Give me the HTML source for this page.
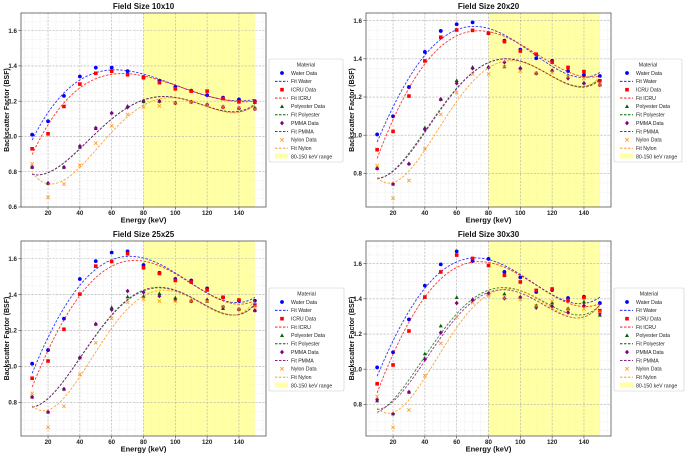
<!DOCTYPE html>
<html><head><meta charset="utf-8"><style>
body{margin:0;background:#fff;}
svg{display:block;font-family:"Liberation Sans","DejaVu Sans",sans-serif;}
</style></head><body>
<svg id="fig" width="685" height="453" viewBox="0 0 685 453" xmlns="http://www.w3.org/2000/svg"></svg>
<script>
const energies=[10,20,30,40,50,60,70,80,90,100,110,120,130,140,150];
const materials=["Water","ICRU","Polyester","PMMA","Nylon"];
const fieldSizes=["10x10","20x20","25x25","30x30"];
const water10=[1.01,1.086,1.23,1.34,1.39,1.39,1.37,1.337,1.316,1.28,1.26,1.234,1.22,1.21,1.2];
const icru10=[0.93,1.015,1.17,1.297,1.358,1.37,1.35,1.333,1.305,1.27,1.257,1.257,1.215,1.196,1.194];
const poly10=[0.826,0.735,0.826,0.94,1.046,1.135,1.173,1.198,1.2,1.19,1.196,1.18,1.17,1.16,1.164];
const pmma10=[0.826,0.735,0.826,0.945,1.048,1.133,1.166,1.2,1.2,1.19,1.196,1.18,1.166,1.16,1.156];
const nylon10=[0.845,0.655,0.73,0.836,0.962,1.06,1.124,1.168,1.173,1.19,1.196,1.18,1.166,1.16,1.156];
const water20=[1.004,1.099,1.252,1.436,1.546,1.581,1.591,1.534,1.495,1.448,1.403,1.39,1.336,1.315,1.31];
const icru20=[0.924,1.02,1.205,1.389,1.513,1.551,1.549,1.534,1.49,1.441,1.424,1.383,1.355,1.333,1.285];
const poly20=[0.826,0.745,0.852,1.04,1.188,1.287,1.357,1.359,1.359,1.354,1.324,1.34,1.306,1.275,1.266];
const pmma20=[0.826,0.745,0.85,1.03,1.188,1.272,1.35,1.355,1.382,1.35,1.324,1.338,1.298,1.272,1.263];
const nylon20=[0.84,0.67,0.763,0.929,1.109,1.223,1.32,1.32,1.359,1.336,1.324,1.33,1.306,1.298,1.263];
const water25=[1.015,1.091,1.266,1.487,1.587,1.635,1.641,1.565,1.522,1.487,1.479,1.435,1.385,1.366,1.366];
const icru25=[0.934,1.03,1.207,1.403,1.559,1.585,1.628,1.55,1.518,1.479,1.47,1.426,1.385,1.37,1.342];
const poly25=[0.83,0.746,0.874,1.049,1.236,1.329,1.388,1.392,1.407,1.383,1.364,1.364,1.323,1.318,1.312];
const pmma25=[0.83,0.746,0.874,1.049,1.236,1.316,1.42,1.413,1.392,1.37,1.364,1.37,1.331,1.318,1.312];
const nylon25=[0.85,0.661,0.778,0.956,1.132,1.268,1.357,1.375,1.364,1.364,1.364,1.364,1.333,1.318,1.333];
const water30=[1.01,1.096,1.283,1.475,1.596,1.67,1.615,1.627,1.553,1.522,1.439,1.45,1.405,1.412,1.376];
const icru30=[0.917,1.024,1.217,1.41,1.553,1.649,1.63,1.59,1.534,1.496,1.448,1.456,1.391,1.407,1.333];
const poly30=[0.82,0.747,0.87,1.088,1.247,1.409,1.399,1.429,1.429,1.41,1.363,1.378,1.346,1.384,1.308];
const pmma30=[0.826,0.747,0.87,1.056,1.208,1.376,1.393,1.431,1.403,1.409,1.35,1.357,1.323,1.361,1.316];
const nylon30=[0.845,0.669,0.768,0.963,1.147,1.297,1.378,1.418,1.403,1.397,1.359,1.386,1.34,1.342,1.325];
const xTicks=[20,40,60,80,100,120,140];
const yTicks=[0.6,0.8,1.0,1.2,1.4,1.6];
const rangeStart=80, rangeEnd=150;

const NS="http://www.w3.org/2000/svg";
const svg=document.getElementById('fig');
function mk(tag,attrs,parent){const e=document.createElementNS(NS,tag);for(const k in attrs)e.setAttribute(k,attrs[k]);(parent||svg).appendChild(e);return e;}
const colors=["#0000ff","#ff0000","#006400","#800080","#ff8c00"];
const panels=[
 {x0:21,x1:266,y0:13,y1:207,ymin:0.6,ymax:1.7,lx:269,ly:59,lw:74,data:[water10,icru10,poly10,pmma10,nylon10]},
 {x0:366,x1:611,y0:13,y1:207,ymin:0.624,ymax:1.64,lx:614,ly:59,lw:68,data:[water20,icru20,poly20,pmma20,nylon20]},
 {x0:21,x1:266,y0:241,y1:436,ymin:0.612,ymax:1.699,lx:269,ly:288,lw:75,data:[water25,icru25,poly25,pmma25,nylon25]},
 {x0:366,x1:611,y0:241,y1:436,ymin:0.62,ymax:1.729,lx:614,ly:288,lw:70,data:[water30,icru30,poly30,pmma30,nylon30]}
];
function polyfit(xs,ys,deg){
 const n=deg+1,A=[];for(let i=0;i<n;i++){A.push(new Array(n+1).fill(0));}
 xs.forEach((x0,k)=>{const x=x0/100;for(let i=0;i<n;i++){for(let j=0;j<n;j++)A[i][j]+=Math.pow(x,i+j);A[i][n]+=Math.pow(x,i)*ys[k];}});
 for(let i=0;i<n;i++){let p=i;for(let r=i+1;r<n;r++)if(Math.abs(A[r][i])>Math.abs(A[p][i]))p=r;[A[i],A[p]]=[A[p],A[i]];
  for(let r=0;r<n;r++){if(r===i)continue;const f=A[r][i]/A[i][i];for(let c=i;c<=n;c++)A[r][c]-=f*A[i][c];}}
 const c=A.map((row,i)=>row[n]/row[i]);
 return x=>{let s=0;const t=x/100;for(let i=0;i<n;i++)s+=c[i]*Math.pow(t,i);return s;};
}
function marker(type,cx,cy,col,g){
 let m;
 if(type===0)m=mk('circle',{cx:cx,cy:cy,r:1.9,fill:col},g);
 else if(type===1)m=mk('rect',{x:cx-1.8,y:cy-1.8,width:3.6,height:3.6,fill:col},g);
 else if(type===2)m=mk('path',{d:`M${cx},${cy-2}L${cx+2},${cy+1.6}L${cx-2},${cy+1.6}Z`,fill:col},g);
 else if(type===3)m=mk('path',{d:`M${cx},${cy-2.3}L${cx+2},${cy}L${cx},${cy+2.3}L${cx-2},${cy}Z`,fill:col},g);
 else m=mk('path',{d:`M${cx-1.7},${cy-1.7}L${cx+1.7},${cy+1.7}M${cx-1.7},${cy+1.7}L${cx+1.7},${cy-1.7}`,stroke:col,'stroke-width':0.9,opacity:0.8},g);
 return m;
}
panels.forEach((P,pi)=>{
 const g=mk('g',{});
 
 
 const xs=v=>P.x0+(v-3)/(157-3)*(P.x1-P.x0);
 const ys=v=>P.y1-(v-P.ymin)/(P.ymax-P.ymin)*(P.y1-P.y0);
 for(let v=5;v<=155;v+=5){const x=xs(v);if(x<P.x0||x>P.x1)continue;mk('line',{x1:x,x2:x,y1:P.y0,y2:P.y1,stroke:'#e4e4e4','stroke-width':0.5,'stroke-dasharray':'1,1'},g);}
 for(let v=0.6;v<=1.75;v+=0.05){const y=ys(v);if(y<P.y0||y>P.y1)continue;mk('line',{x1:P.x0,x2:P.x1,y1:y,y2:y,stroke:'#e4e4e4','stroke-width':0.5,'stroke-dasharray':'1,1'},g);}
 const sp=mk('rect',{x:xs(rangeStart),y:P.y0,width:xs(rangeEnd)-xs(rangeStart),height:P.y1-P.y0,fill:'#ffff80',opacity:0.7},g);
 
 
 xTicks.forEach(v=>{const x=xs(v);mk('line',{x1:x,x2:x,y1:P.y0,y2:P.y1,stroke:'#b0b0b0','stroke-width':0.6,'stroke-dasharray':'2,1.5'},g);
  mk('line',{x1:x,x2:x,y1:P.y1,y2:P.y1+2.5,stroke:'#333','stroke-width':0.6},g);
  const t=mk('text',{x:x,y:P.y1+8,'font-size':6.2,'font-weight':'bold','text-anchor':'middle',fill:'#222'},g);t.textContent=v;
  });
 yTicks.forEach(v=>{const y=ys(v);if(y<P.y0-0.5||y>P.y1+0.5)return;mk('line',{x1:P.x0,x2:P.x1,y1:y,y2:y,stroke:'#b0b0b0','stroke-width':0.6,'stroke-dasharray':'2,1.5'},g);
  mk('line',{x1:P.x0-2.5,x2:P.x0,y1:y,y2:y,stroke:'#333','stroke-width':0.6},g);
  const t=mk('text',{x:P.x0-4,y:y+2.2,'font-size':6.2,'font-weight':'bold','text-anchor':'end',fill:'#222'},g);t.textContent=v.toFixed(1);
  });
 P.data.forEach((arr,si)=>{
  const f=polyfit(energies,arr,4);let d='';
  for(let e=10;e<=150;e+=1)d+=(e===10?'M':'L')+xs(e).toFixed(2)+','+ys(f(e)).toFixed(2);
  const l=mk('path',{d:d,fill:'none',stroke:colors[si],'stroke-width':0.9,'stroke-dasharray':'2.5,1.5',opacity:0.8},g);
  
  
  arr.forEach((v,k)=>{const m=marker(si,xs(energies[k]),ys(v),colors[si],g);
   
   });
 });
 mk('rect',{x:P.x0,y:P.y0,width:P.x1-P.x0,height:P.y1-P.y0,fill:'none',stroke:'#555','stroke-width':0.8},g);
 const tt=mk('text',{x:(P.x0+P.x1)/2,y:P.y0-4,'font-size':8,'font-weight':'bold','text-anchor':'middle',fill:'#111'},g);tt.textContent='Field Size '+fieldSizes[pi];
 
 const xl=mk('text',{x:(P.x0+P.x1)/2,y:P.y1+15.5,'font-size':7.5,'font-weight':'bold','text-anchor':'middle',fill:'#111'},g);xl.textContent='Energy (keV)';
 
 const cy=(P.y0+P.y1)/2,cx=P.x0-12;
 const yl=mk('text',{x:cx,y:cy,'font-size':7,'font-weight':'bold','text-anchor':'middle',fill:'#111',transform:`rotate(-90 ${cx} ${cy})`},g);yl.textContent='Backscatter Factor (BSF)';
 
 const lg=mk('g',{},g);
 
 
 mk('rect',{x:P.lx,y:P.ly,width:P.lw,height:103,fill:'#fff',stroke:'#ccc','stroke-width':0.6,rx:1.5},lg);
 const lt=mk('text',{x:P.lx+P.lw/2,y:P.ly+7.5,'font-size':5.2,'text-anchor':'middle',fill:'#222'},lg);lt.textContent='Material';
 let row=0;
 materials.forEach((m,si)=>{
  let y=P.ly+15.5+row*8.35;
  const e1=mk('g',{},lg);
  marker(si,P.lx+13,y-1.5,colors[si],e1);
  const t1=mk('text',{x:P.lx+22,y:y+0.3,'font-size':5.2,fill:'#222'},e1);t1.textContent=m+' Data';
  row++;y=P.ly+15.5+row*8.35;
  const e2=mk('g',{},lg);
  mk('line',{x1:P.lx+6,x2:P.lx+19,y1:y-1.5,y2:y-1.5,stroke:colors[si],'stroke-width':0.9,'stroke-dasharray':'2.5,1.5'},e2);
  const t2=mk('text',{x:P.lx+22,y:y+0.3,'font-size':5.2,fill:'#222'},e2);t2.textContent='Fit '+m;
  row++;
 });
 const y=P.ly+15.5+row*8.35;
 const e3=mk('g',{},lg);
 mk('rect',{x:P.lx+6,y:y-4.5,width:13,height:5,fill:'#ffff80',opacity:0.7},e3);
 const t3=mk('text',{x:P.lx+22,y:y+0.3,'font-size':5.2,fill:'#222'},e3);t3.textContent='80-150 keV range';
});
</script>
</body></html>
